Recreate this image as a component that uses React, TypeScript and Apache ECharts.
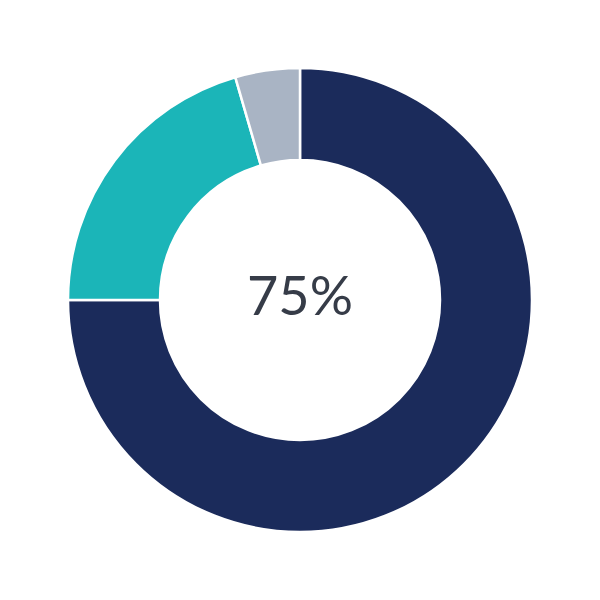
import React, { useEffect, useRef } from 'react';
import * as echarts from 'echarts';

const categories = ['Primary', 'Secondary', 'Other'];
const values = [75, 20.5, 4.5];
const colors = ['#1b2b5b', '#1bb5b8', '#a9b4c4'];
const centerLabel = '75%';

const App: React.FC = () => {
	const chartRef = useRef<HTMLDivElement>(null);

	useEffect(() => {
		if (!chartRef.current) return;
		document.body.style.margin = '0';
		const chart = echarts.init(chartRef.current, undefined, { renderer: 'svg' });

		const option: echarts.EChartsOption = {
			animation: false,
			backgroundColor: '#ffffff',
			graphic: [
				{
					type: 'text',
					left: 'center',
					top: 267,
					style: {
						text: centerLabel,
						fontSize: 54,
						fontFamily: 'Lato',
						fill: '#363c48'
					}
				}
			],
			series: [
				{
					type: 'pie',
					center: [300, 300],
					radius: [140, 232],
					startAngle: 90,
					clockwise: true,
					label: { show: false },
					labelLine: { show: false },
					itemStyle: {
						borderColor: '#ffffff',
						borderWidth: 2.5
					},
					data: categories.map((name, i) => ({
						name,
						value: values[i],
						itemStyle: { color: colors[i] }
					}))
				}
			]
		};

		chart.setOption(option);

		return () => {
			chart.dispose();
		};
	}, []);

	return <div ref={chartRef} style={{ width: '600px', height: '600px' }} />;
};

export default App;
